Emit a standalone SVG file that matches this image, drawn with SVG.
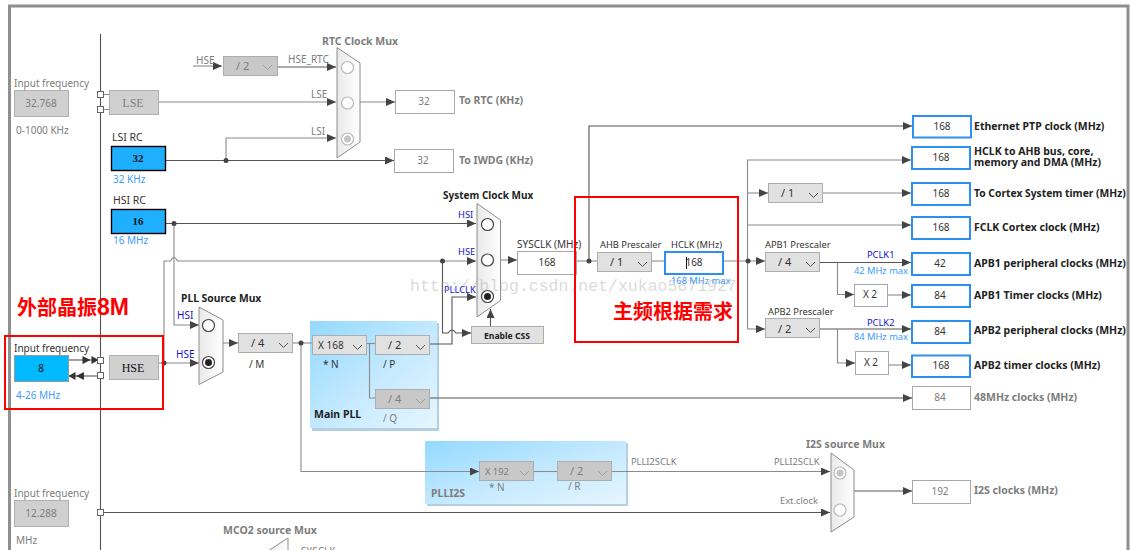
<svg xmlns="http://www.w3.org/2000/svg" width="1130" height="550" viewBox="0 0 1130 550">
<style>
text{font-family:"Noto Sans","Liberation Sans",sans-serif;font-size:10px;fill:#333}
.b{font-weight:700;font-size:10.5px;fill:#222}
.g{fill:#7d7d7d}
.gb{font-weight:700;font-size:10.5px;fill:#7d7d7d}
.lb{fill:#3c9bff}
.db{fill:#1414c8}
.c{text-anchor:middle}
.n{font-size:9.300px}
.cs{font-family:"Liberation Serif",serif;font-weight:700;font-size:11px;fill:#111;text-anchor:middle}
.ser{font-family:"Liberation Serif",serif;font-size:11px;text-anchor:middle}
.red{font-family:"Noto Sans CJK SC",sans-serif;font-size:20px;font-weight:700;fill:#f00}
.wm{font-family:"Liberation Mono",monospace;font-size:16.5px;fill:#a0a0a0;fill-opacity:.4}
.l{fill:none;stroke:#555;stroke-width:1.1}
.m{fill:none;stroke:#8a8a8a;stroke-width:1.1}
.a{marker-end:url(#ah)}
.dd{fill:#e1e1e1;stroke:#adadad;stroke-width:1}
.ddx{fill:#c8c8c8;stroke:#adadad;stroke-width:1}
.box{fill:#fff;stroke:#a8a8a8;stroke-width:1}
.blue{fill:#fff;stroke:#2d8ff0;stroke-width:2}
.gr{fill:#d0d0d0;stroke:#b0b0b0;stroke-width:1}
.rc{fill:#1eb0ff;stroke:#000;stroke-width:1.4}
.mux{fill:url(#mg);stroke:#8c8c8c;stroke-width:1}
.o{fill:#fff;stroke:#444;stroke-width:1.2}
.ox{fill:#fff;stroke:#bbb;stroke-width:1.2}
.sq{fill:#fff;stroke:#666;stroke-width:1}
.ch{fill:none;stroke:#555;stroke-width:1}
.chx{fill:none;stroke:#a0a0a0;stroke-width:1}
.j{fill:#444}
.r{fill:none;stroke:#f00;stroke-width:2}
</style>
<defs>
<marker id="ah" markerUnits="userSpaceOnUse" markerWidth="10" markerHeight="8" refX="9" refY="4" orient="auto"><path d="M0 0L9 4L0 8z" fill="#444"/></marker>
<linearGradient id="mg" x1="0" y1="0" x2="1" y2="0"><stop offset="0" stop-color="#e9e9e9"/><stop offset="1" stop-color="#fff"/></linearGradient>
<linearGradient id="pg" x1="0" y1="0" x2="1" y2="1"><stop offset="0" stop-color="#93d9ff"/><stop offset=".55" stop-color="#c6eaff"/><stop offset="1" stop-color="#e6f6ff"/></linearGradient>
<path id="chv" d="M0 0L4.500 4.500L9 0"/>
</defs>

<path d="M9.500 550V6H1128V550" fill="none" stroke="#8f8f8f" stroke-width="3"/>

<g id="pll-panels">
<rect x="312" y="323" width="127" height="108" fill="#b4cfe0"/>
<rect x="310" y="321" width="127" height="107" fill="url(#pg)"/>
<rect x="427" y="443" width="201" height="63" fill="#b4cfe0"/>
<rect x="425" y="441" width="201" height="63" fill="url(#pg)"/>
</g>

<g id="connectors">
<path class="l" d="M100.500 34V550"/>
<path class="m a" d="M193 66H222"/>
<path class="l a" d="M278 67H336"/>
<path class="m a" d="M159 102H336"/>
<path class="m a" d="M226 160V138H336"/>
<path class="l a" d="M166 160.500H394"/>
<path class="m a" d="M360 102H395"/>
<path class="l a" d="M166 223.500H476"/>
<path class="m a" d="M174 223.500V325H199"/>
<path class="m a" d="M164 363V261H170.500Q174 254 177.500 261H476"/>
<path class="m a" d="M159 363H199"/>
<path class="l" d="M69 360H100"/><path d="M82.500 356L90.500 360L82.500 364zM91.500 356L98.500 360L91.500 364z" fill="#333"/>
<path class="l" d="M100 376H69"/><path d="M75.500 372L68.500 376L75.500 380zM84 372L76 376L84 380z" fill="#333"/>
<path class="m a" d="M223 343H238"/>
<path class="m" d="M293 343H312"/>
<path class="m a" d="M301 343V471.500H479"/>
<path class="m" d="M367 343.500H375"/>
<path class="m" d="M369.500 343.500V398H375"/>
<path class="l a" d="M430 344H452V297H476"/>
<path class="l a" d="M430 398H912"/>
<path class="l a" d="M442.500 261V333H448Q452 327 456 333H471"/>
<path class="l a" d="M490.500 326V309"/>
<path class="m a" d="M500.600 260H517"/>
<path class="m" d="M577 261H598"/>
<path class="l a" d="M589 261V126H912"/>
<path class="m" d="M651 261H665"/>
<path class="m a" d="M723 261H765"/>
<path class="m a" d="M747.500 329V160H911"/>
<path class="m a" d="M747.500 193H768"/>
<path class="m a" d="M823 193H911"/>
<path class="m a" d="M747.500 225H911"/>
<path class="m a" d="M747.500 329H765"/>
<path class="l a" d="M820 262.500H911"/>
<path class="m a" d="M837.500 262.500V294.500H854"/>
<path class="m a" d="M887 295H911"/>
<path class="l a" d="M820 329H911"/>
<path class="m a" d="M837.500 329V363H855"/>
<path class="m a" d="M889 365H911"/>
<path class="m" d="M534 471.500H557"/>
<path class="m a" d="M611 471.500H830"/>
<path class="l a" d="M100 512.500H830"/>
<path class="l a" d="M854 491H912"/>
<path class="m" d="M100 94.500H109M100 109.500H109"/>
<circle class="j" cx="226" cy="160.500" r="2.500"/>
<circle class="j" cx="174" cy="223.500" r="2.500"/>
<circle class="j" cx="164" cy="363" r="2.500"/>
<circle class="j" cx="301" cy="343" r="2.500"/>
<circle class="j" cx="442.500" cy="261" r="2.500"/>
<circle class="j" cx="589" cy="261" r="2.500"/>
<circle class="j" cx="748" cy="261" r="2.500"/>
</g>

<g id="lse-input"><text class="g" x="14" y="87">Input frequency</text><rect class="gr" x="14.500" y="90.500" width="54" height="26"/><text class="g c" x="41" y="107">32.768</text><text class="g" x="16" y="134">0-1000 KHz</text></g>
<g id="lse"><rect class="gr" x="109.500" y="90.500" width="49" height="24"/><text class="ser" x="133" y="107" style="fill:#808080;font-size:12px">LSE</text><rect class="sq" x="97.500" y="91.500" width="6" height="6"/><rect class="sq" x="97.500" y="106.500" width="6" height="6"/></g>
<g id="lsi-rc"><text x="112" y="141" style="font-size:10.500px">LSI RC</text><rect class="rc" x="111.500" y="146.500" width="54" height="24"/><text class="cs" x="138" y="162">32</text><text class="lb" x="113" y="183">32 KHz</text></g>
<g id="hsi-rc"><text x="113" y="204" style="font-size:10.500px">HSI RC</text><rect class="rc" x="111.500" y="209.500" width="54" height="24"/><text class="cs" x="138" y="225">16</text><text class="lb" x="113" y="244">16 MHz</text></g>
<g id="hse-input"><text x="14" y="352">Input frequency</text><rect x="14.500" y="355.500" width="54" height="26" fill="#00b9ff" stroke="#9a9a9a"/><text class="c" x="41" y="372" style="fill:#111">8</text><text class="lb" x="16" y="399">4-26 MHz</text></g>
<g id="hse"><rect class="gr" x="109.500" y="355.500" width="49" height="24"/><text class="ser" x="133" y="372" style="fill:#111;font-size:12px">HSE</text><rect class="sq" x="97.500" y="357.500" width="6" height="6"/><rect class="sq" x="97.500" y="372.500" width="6" height="6"/></g>
<g id="i2s-input"><text class="g" x="14" y="497">Input frequency</text><rect class="gr" x="14.500" y="500.500" width="54" height="26"/><text class="g c" x="41" y="517">12.288</text><text class="g" x="16" y="544">MHz</text><rect class="sq" x="97.500" y="509.500" width="6" height="6"/></g>

<g id="rtc-div"><text class="g" x="196" y="64">HSE</text><rect class="ddx" x="223.500" y="56.500" width="54" height="19"/><text class="g" x="236" y="70" style="font-size:11px">/ 2</text><use href="#chv" class="chx" x="263" y="65"/></g>
<g id="rtc-mux"><text class="gb" x="322" y="45">RTC Clock Mux</text><path class="mux" d="M337 47.500L360 63V142L337 158z"/><circle class="ox" cx="347.500" cy="67.500" r="6"/><circle class="ox" cx="347.500" cy="103" r="6"/><circle class="ox" cx="347.500" cy="139" r="6"/><circle cx="347.500" cy="139" r="3.500" fill="#c4c4c4"/><text class="g" x="288" y="63">HSE_RTC</text><text class="g" x="311" y="98">LSE</text><text class="g" x="311" y="135">LSI</text></g>
<g id="to-rtc"><rect class="box" x="395.500" y="90.500" width="59" height="23"/><text class="g c" x="424" y="105">32</text><text class="gb" x="459" y="104">To RTC (KHz)</text></g>
<g id="to-iwdg"><rect class="box" x="394.500" y="149.500" width="59" height="23"/><text class="g c" x="423" y="164">32</text><text class="gb" x="459" y="164">To IWDG (KHz)</text></g>

<g id="pll-mux"><text class="b" x="181" y="302" style="font-size:10.300px">PLL Source Mux</text><path class="mux" d="M199 307L223 320V372L199 384.500z"/><circle class="o" cx="208.500" cy="325.500" r="6"/><circle class="o" cx="208.500" cy="362.500" r="6"/><circle cx="208.500" cy="362.500" r="3.500" fill="#222"/><text class="db" x="177" y="319">HSI</text><text class="db" x="176" y="358">HSE</text></g>
<g id="pll-m"><rect class="dd" x="238.500" y="333.500" width="54" height="19"/><text x="251" y="347" style="font-size:11px">/ 4</text><use href="#chv" class="ch" x="279" y="343"/><text x="249" y="368">/ M</text></g>
<g id="pll-n"><rect class="dd" x="312.500" y="335.500" width="54" height="19"/><text x="318" y="349">X 168</text><use href="#chv" class="ch" x="353" y="345"/><text x="323" y="368">* N</text></g>
<g id="pll-p"><rect class="dd" x="375.500" y="335.500" width="54" height="19"/><text x="388" y="349" style="font-size:11px">/ 2</text><use href="#chv" class="ch" x="416" y="345"/><text x="383" y="368">/ P</text></g>
<g id="pll-q"><rect class="ddx" x="375.500" y="389.500" width="54" height="19"/><text class="g" x="388" y="403" style="font-size:11px">/ 4</text><use href="#chv" class="chx" x="416" y="399"/><text class="g" x="383" y="422">/ Q</text></g>
<text class="b" x="314" y="418">Main PLL</text>

<g id="sys-mux"><text class="b" x="443" y="199" style="font-size:10px">System Clock Mux</text><path class="mux" d="M477 203.500L500.500 220V300.500L477 317z"/><circle class="o" cx="487.500" cy="224.500" r="6"/><circle class="o" cx="487.500" cy="260" r="6"/><circle class="o" cx="487.500" cy="296.500" r="6"/><circle cx="487.500" cy="296.500" r="3.500" fill="#222"/><text class="db n" x="458" y="218">HSI</text><text class="db n" x="458" y="255">HSE</text><text class="db n" x="444" y="293">PLLCLK</text></g>
<g id="css"><rect class="dd" x="471.500" y="326.500" width="72" height="17"/><text class="c" x="507" y="339" style="font-weight:700;font-size:8.600px;fill:#222">Enable CSS</text></g>
<g id="sysclk"><text x="517" y="248">SYSCLK (MHz)</text><rect class="box" x="517.500" y="251.500" width="59" height="23"/><text class="c" x="547" y="266">168</text></g>
<g id="ahb"><text class="n" x="600" y="248">AHB Prescaler</text><rect class="dd" x="597.500" y="252.500" width="54" height="19"/><text x="610" y="266" style="font-size:11px">/ 1</text><use href="#chv" class="ch" x="638" y="262"/></g>
<g id="hclk"><text class="n" x="671" y="248">HCLK (MHz)</text><rect class="blue" x="665" y="252" width="58" height="22"/><text class="c" x="694" y="266">168</text><path d="M686.500 257V269" stroke="#111"/><text class="lb n" x="671" y="284">168 MHz max</text></g>

<g id="cortex-div"><rect class="dd" x="768.500" y="183.500" width="54" height="19"/><text x="781" y="197" style="font-size:11px">/ 1</text><use href="#chv" class="ch" x="809" y="193"/></g>
<g id="apb1"><text class="n" x="765" y="248">APB1 Prescaler</text><rect class="dd" x="765.500" y="252.500" width="54" height="19"/><text x="778" y="266" style="font-size:11px">/ 4</text><use href="#chv" class="ch" x="806" y="262"/><text class="db n" x="867" y="258">PCLK1</text><text class="lb n" x="854" y="274">42 MHz max</text></g>
<g id="apb2"><text class="n" x="768" y="315">APB2 Prescaler</text><rect class="dd" x="765.500" y="318.500" width="54" height="19"/><text x="778" y="333" style="font-size:11px">/ 2</text><use href="#chv" class="ch" x="806" y="328"/><text class="db n" x="867" y="326">PCLK2</text><text class="lb n" x="854" y="340">84 MHz max</text></g>
<g id="x2-1"><rect class="box" x="854.500" y="284.500" width="33" height="22"/><text class="c" x="870" y="298">X 2</text></g>
<g id="x2-2"><rect class="box" x="855.500" y="351.500" width="33" height="23"/><text class="c" x="871" y="366">X 2</text></g>

<g id="out-eth"><rect class="blue" x="913" y="116" width="58" height="21.500"/><text class="c" x="942" y="130">168</text><text class="b" x="974" y="130">Ethernet PTP clock (MHz)</text></g>
<g id="out-hclk"><rect class="blue" x="912" y="147" width="58" height="22"/><text class="c" x="941" y="161">168</text><text class="b" x="974" y="155">HCLK to AHB bus, core,</text><text class="b" x="974" y="166">memory and DMA (MHz)</text></g>
<g id="out-cortex"><rect class="blue" x="912" y="183" width="58" height="22"/><text class="c" x="941" y="197">168</text><text class="b" x="974" y="197" style="font-size:10.300px">To Cortex System timer (MHz)</text></g>
<g id="out-fclk"><rect class="blue" x="912" y="217" width="58" height="22"/><text class="c" x="941" y="231">168</text><text class="b" x="974" y="231">FCLK Cortex clock (MHz)</text></g>
<g id="out-apb1p"><rect class="blue" x="912" y="253" width="58" height="22"/><text class="c" x="940" y="267">42</text><text class="b" x="974" y="267">APB1 peripheral clocks (MHz)</text></g>
<g id="out-apb1t"><rect class="blue" x="912" y="285" width="58" height="22"/><text class="c" x="940" y="299">84</text><text class="b" x="974" y="299">APB1 Timer clocks (MHz)</text></g>
<g id="out-apb2p"><rect class="blue" x="912" y="321" width="58" height="22"/><text class="c" x="940" y="335">84</text><text class="b" x="974" y="334">APB2 peripheral clocks (MHz)</text></g>
<g id="out-apb2t"><rect class="blue" x="912" y="355.500" width="58" height="21.500"/><text class="c" x="941" y="369">168</text><text class="b" x="974" y="369">APB2 timer clocks (MHz)</text></g>
<g id="out-48"><rect class="box" x="912.500" y="386.500" width="58" height="23"/><text class="g c" x="940" y="401">84</text><text class="gb" x="974" y="401">48MHz clocks (MHz)</text></g>

<g id="plli2s-n"><rect class="ddx" x="479.500" y="461.500" width="54" height="19"/><text class="g n" x="485" y="475">X 192</text><use href="#chv" class="chx" x="520" y="471"/><text class="g" x="489" y="491">* N</text></g>
<g id="plli2s-r"><rect class="ddx" x="557.500" y="461.500" width="54" height="19"/><text class="g" x="570" y="475" style="font-size:11px">/ 2</text><use href="#chv" class="chx" x="598" y="471"/><text class="g" x="568" y="490">/ R</text></g>
<text class="gb" x="431" y="497">PLLI2S</text>
<text class="g n" x="631" y="465">PLLI2SCLK</text>

<g id="i2s-mux"><text class="gb" x="806" y="448">I2S source Mux</text><path class="mux" d="M831 453L854 470V517L831 532z"/><circle class="ox" cx="840" cy="473" r="6"/><circle cx="840" cy="473" r="3.500" fill="#c4c4c4"/><circle class="ox" cx="840" cy="510" r="6"/><text class="g n" x="774" y="465">PLLI2SCLK</text><text class="g n" x="780" y="504">Ext.clock</text></g>
<g id="i2s-out"><rect class="box" x="912.500" y="480.500" width="58" height="23"/><text class="g c" x="940" y="495">192</text><text class="gb" x="974" y="494">I2S clocks (MHz)</text></g>

<g id="mco2"><text class="gb" x="223" y="534">MCO2 source Mux</text><path class="mux" d="M288 538L268 551H288z"/><text class="g" x="301" y="555">SYSCLK</text></g>

<g id="annotations">
<rect class="r" x="5" y="336" width="158" height="73"/>
<rect class="r" x="575" y="197" width="163" height="145"/>
<text class="red" x="17" y="315">外部晶振<tspan style="font-family:'Liberation Sans',sans-serif;font-size:23px;font-weight:700;fill:#f00">8M</tspan></text>
<text class="red" x="613" y="319">主频根据需求</text>
<text class="wm" x="410" y="291">http://blog.csdn.net/xukao5671927</text>
</g>
</svg>
